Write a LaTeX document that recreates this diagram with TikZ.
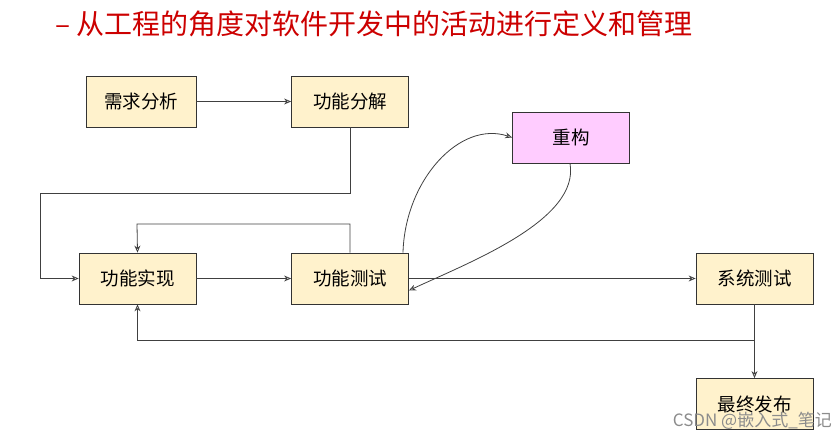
\documentclass[tikz,border=0pt]{standalone}
\usepackage{fontspec}
\newfontfamily\cjk{Noto Sans CJK SC}
\usetikzlibrary{arrows.meta}
\definecolor{boxfill}{HTML}{FFF2CC}
\definecolor{pinkfill}{HTML}{FFCCFF}
\definecolor{titlered}{HTML}{CC0000}
\tikzset{
 box/.style={draw=black!80,line width=0.8pt,fill=boxfill,minimum width=117pt,minimum height=51pt,inner sep=0pt,font=\cjk\fontsize{18.5}{20}\selectfont},
 conn/.style={draw=black!75,line width=0.8pt,-{Stealth[length=7pt,width=6pt,open]}},
}
\begin{document}
\begin{tikzpicture}[x=1pt,y=-1pt]
\useasboundingbox (0,0) rectangle (836,437);
\node[anchor=west,text=titlered,font=\cjk\fontsize{28}{30}\selectfont] (title) at (52,24) {– 从工程的角度对软件开发中的活动进行定义和管理};
\node[box,minimum width=110pt] (xq) at (141,101.5) {需求分析};
\node[box] (fj) at (350,101.5) {功能分解};
\node[box,fill=pinkfill] (cg) at (571,137.5) {重构};
\node[box] (sx) at (137.5,278.5) {功能实现};
\node[box] (cs) at (350,278.5) {功能测试};
\node[box] (xt) at (754.5,278.5) {系统测试};
\node[box] (fb) at (754.5,404) {最终发布};
\coordinate (c1) at (40,193);
\coordinate (c2) at (137,224);
\coordinate (c3) at (754.5,340);
\draw[conn] (xq) -- (fj);
\draw[conn] (fj.south) -- (fj.south |- c1) -- (c1) |- (sx.west);
\draw[conn] (cs.north) -- (cs.north |- c2) -- (c2) -- (sx.north);
\draw[conn] (sx) -- (cs);
\draw[conn] (cs) -- (xt);
\draw[conn] (xt) -- (fb);
\draw[conn] (c3) -| (sx.south);
\draw[conn] ([xshift=53pt]cs.north) .. controls (405,180) and (460,120) .. (cg.west);
\draw[conn] ([xshift=-1pt]cg.south) .. controls (580,220) and (470,262) .. ([yshift=-12pt]cs.east);
\node[anchor=south east,text=black!45,font=\cjk\fontsize{17}{19}\selectfont,inner sep=2pt] (wm) at (834,432) {CSDN @嵌入式\_笔记};
\end{tikzpicture}
\end{document}
